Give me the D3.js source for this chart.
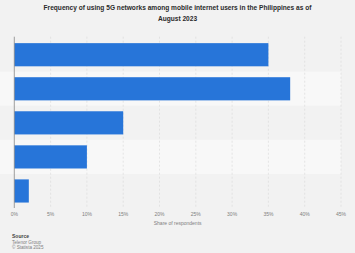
<!DOCTYPE html>
<html>
<head>
<meta charset="utf-8">
<script src="https://cdn.jsdelivr.net/npm/d3@7"></script>
<style>
  html, body { margin: 0; padding: 0; background: #f2f2f2; }
  svg { display: block; font-family: "Liberation Sans", Arial, sans-serif; }
</style>
</head>
<body>
<script>
// data
var categories = ["Always", "Often", "Sometimes", "Rarely", "Never"];
var values = [35, 38, 15, 10, 2];
var xTicks = [0, 5, 10, 15, 20, 25, 30, 35, 40, 45];
var titleLines = ["Frequency of using 5G networks among mobile internet users in the Philippines as of", "August 2023"];
var sourceLines = ["Telenor Group", "\u00a9 Statista 2025"];

var width = 355, height = 253;
var margin = {top: 37.7, left: 14.3, right: 14, bottom: 45};

var svg = d3.select("body").append("svg")
    .attr("width", width)
    .attr("height", height);

svg.append("rect").attr("width", width).attr("height", height).attr("fill", "#f2f2f2");

var x = d3.scaleLinear().domain([0, 45]).range([margin.left, 341]);
var y = d3.scaleBand().domain(categories).range([margin.top, 208]).paddingInner(0.32).paddingOuter(0.16);

// alternating row stripes
svg.selectAll("rect.stripe")
    .data(categories)
    .enter().append("rect")
    .attr("class", "stripe")
    .attr("x", 0)
    .attr("width", x(45))
    .attr("y", function(d) { return y(d) - y.step() * y.paddingInner() / 2; })
    .attr("height", y.step())
    .attr("fill", function(d, i) { return i % 2 ? "#f8f8f8" : "#f2f2f2"; });

// gridlines
svg.selectAll("line.grid")
    .data(xTicks.slice(1))
    .enter().append("line")
    .attr("class", "grid")
    .attr("x1", function(d) { return x(d); })
    .attr("x2", function(d) { return x(d); })
    .attr("y1", margin.top - 1)
    .attr("y2", 208)
    .attr("stroke", "#d6d6d6")
    .attr("stroke-width", 0.6)
    .attr("stroke-dasharray", "2,2");

// bars
svg.selectAll("rect.bar")
    .data(values)
    .enter().append("rect")
    .attr("class", "bar")
    .attr("x", x(0))
    .attr("y", function(d, i) { return y(categories[i]); })
    .attr("width", function(d) { return x(d) - x(0); })
    .attr("height", y.bandwidth())
    .attr("fill", "#2775d9");

// zero axis line
svg.append("line")
    .attr("x1", x(0)).attr("x2", x(0))
    .attr("y1", margin.top - 1).attr("y2", 208)
    .attr("stroke", "#888").attr("stroke-width", 0.8);

// tick labels
svg.selectAll("text.tick")
    .data(xTicks)
    .enter().append("text")
    .attr("class", "tick")
    .attr("x", function(d) { return x(d); })
    .attr("y", 216)
    .attr("text-anchor", "middle")
    .attr("font-size", 5)
    .attr("fill", "#808080")
    .text(function(d) { return d + "%"; });

svg.append("text")
    .attr("x", (x(0) + x(45)) / 2)
    .attr("y", 225)
    .attr("text-anchor", "middle")
    .attr("font-size", 5)
    .attr("fill", "#808080")
    .text("Share of respondents");

// title
svg.selectAll("text.title")
    .data(titleLines)
    .enter().append("text")
    .attr("class", "title")
    .attr("x", width / 2)
    .attr("y", function(d, i) { return 10 + i * 10.8; })
    .attr("text-anchor", "middle")
    .attr("font-size", 6.6)
    .attr("font-weight", "bold")
    .attr("fill", "#2a2a2a")
    .text(function(d) { return d; });

// source
svg.append("text")
    .attr("x", 12).attr("y", 238)
    .attr("font-size", 5).attr("font-weight", "bold").attr("fill", "#444")
    .text("Source");
svg.selectAll("text.src")
    .data(sourceLines)
    .enter().append("text")
    .attr("class", "src")
    .attr("x", 12)
    .attr("y", function(d, i) { return 243.5 + i * 5.5; })
    .attr("font-size", 4.6)
    .attr("fill", "#808080")
    .text(function(d) { return d; });
</script>
</body>
</html>
